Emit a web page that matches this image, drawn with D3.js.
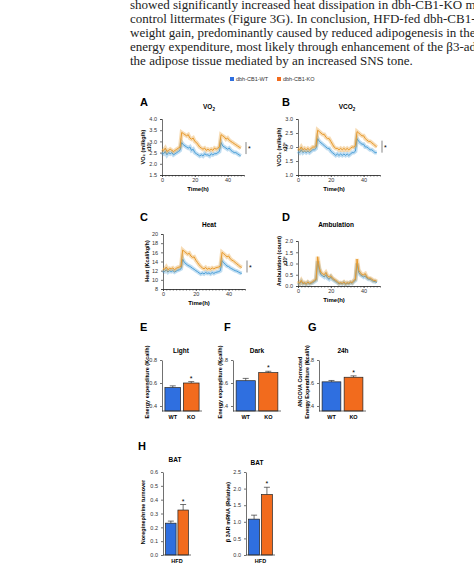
<!DOCTYPE html>
<html>
<meta charset="utf-8">
<head>
<script src="https://d3js.org/d3.v7.min.js"></script>
<style>
body{margin:0;background:#fff;}
svg text{font-family:"Liberation Sans",Arial,sans-serif;}
.para{font-family:"Liberation Serif","DejaVu Serif",serif;font-size:13px;fill:#222;}
</style>
</head>
<body>
<script>
// paragraph lines above the figure
var paraLines = [
  "showed significantly increased heat dissipation in dbh-CB1-KO mice compared",
  "control littermates (Figure 3G). In conclusion, HFD-fed dbh-CB1-KO mice showed",
  "weight gain, predominantly caused by reduced adipogenesis in the visceral fat",
  "energy expenditure, most likely through enhancement of the \u03b23-adrenergic",
  "the adipose tissue mediated by an increased SNS tone."
];
var seriesNames = ["dbh-CB1-WT", "dbh-CB1-KO"];
var hours = d3.range(0, 49);

var vo2WT = [2.5,2.45,2.55,2.4,2.5,2.45,2.5,2.4,2.45,2.5,2.55,2.6,
  2.95,2.85,2.8,2.75,2.7,2.75,2.6,2.65,2.5,2.45,2.4,2.35,
  2.4,2.35,2.45,2.4,2.4,2.35,2.45,2.4,2.45,2.45,2.5,2.55,
  2.95,2.8,2.75,2.7,2.65,2.7,2.6,2.55,2.5,2.5,2.45,2.4,2.35];
var vo2KO = [2.65,2.6,2.7,2.55,2.6,2.65,2.6,2.55,2.6,2.65,2.7,2.75,
  3.4,3.35,3.3,3.25,3.3,3.15,3.1,3.15,3.0,2.95,2.85,2.75,
  2.7,2.65,2.7,2.6,2.65,2.6,2.65,2.6,2.7,2.65,2.7,2.75,
  3.3,3.25,3.2,3.1,3.15,3.05,3.0,2.95,2.9,2.85,2.8,2.75,2.7];
var vco2WT = [1.85,1.8,1.9,1.8,1.85,1.8,1.85,1.8,1.85,1.9,1.9,1.95,
  2.3,2.2,2.15,2.1,2.05,2.0,1.95,1.95,1.85,1.8,1.75,1.7,
  1.75,1.7,1.75,1.7,1.75,1.7,1.75,1.7,1.75,1.8,1.8,1.85,
  2.3,2.2,2.15,2.1,2.1,2.0,2.0,1.95,1.9,1.9,1.85,1.8,1.8];
var vco2KO = [1.95,1.9,2.0,1.9,1.95,1.9,1.95,1.9,1.95,2.0,2.0,2.05,
  2.6,2.55,2.5,2.45,2.45,2.35,2.3,2.3,2.2,2.1,2.0,1.95,
  1.95,1.9,1.95,1.9,1.95,1.9,1.95,1.9,1.95,2.0,2.0,2.05,
  2.55,2.5,2.45,2.4,2.4,2.3,2.25,2.2,2.2,2.15,2.1,2.05,2.0];
var heatWT = [12,11.8,12.2,11.7,12,11.8,12,11.7,11.9,12.1,12.2,12.4,
  14.5,13.8,13.5,13.2,13,12.8,12.5,12.3,12,11.8,11.5,11.3,
  11.5,11.3,11.6,11.4,11.5,11.3,11.6,11.4,11.6,11.7,11.8,12,
  14.2,13.7,13.4,13,12.9,12.6,12.4,12.2,12,11.9,11.7,11.5,11.4];
var heatKO = [12.5,12.3,12.8,12.2,12.5,12.4,12.6,12.2,12.5,12.7,12.8,13,
  16.5,16.2,15.9,15.6,15.8,15.2,14.9,15,14.3,13.8,13.3,12.9,
  12.6,12.4,12.7,12.3,12.5,12.3,12.6,12.4,12.6,12.7,12.8,13,
  16,15.7,15.4,15,15.2,14.6,14.3,14.1,13.8,13.5,13.2,12.9,12.7];
var ambWT = [0.15,0.1,0.2,0.1,0.12,0.08,0.15,0.1,0.12,0.15,0.2,0.25,
  1.1,0.7,0.5,0.45,0.4,0.5,0.35,0.3,0.4,0.3,0.25,0.2,
  0.15,0.1,0.12,0.1,0.15,0.08,0.12,0.1,0.15,0.12,0.2,0.25,
  1.0,0.6,0.5,0.45,0.4,0.45,0.35,0.3,0.3,0.25,0.2,0.2,0.15];
var ambKO = [0.2,0.12,0.25,0.12,0.15,0.1,0.18,0.12,0.15,0.2,0.25,0.3,
  1.3,0.8,0.6,0.55,0.5,0.6,0.45,0.4,0.45,0.35,0.3,0.25,
  0.2,0.12,0.15,0.12,0.18,0.1,0.15,0.12,0.18,0.15,0.25,0.3,
  1.2,0.7,0.6,0.5,0.5,0.55,0.4,0.35,0.35,0.3,0.25,0.25,0.2];

var barGroups = ["WT", "KO"];
var lightMean = [0.56, 0.60], lightErr = [0.015, 0.012];
var darkMean = [0.62, 0.69], darkErr = [0.02, 0.012];
var dayMean = [0.61, 0.65], dayErr = [0.012, 0.012];
var neTurnover = [0.23, 0.325], neErr = [0.015, 0.04];
var b3ar = [1.08, 1.82], b3arErr = [0.12, 0.22];

var blueBar = "#2f6fe0", orangeBar = "#f26b1d";
var blueLine = "#4a9fd8", orangeLine = "#e89a2c";

var svg = d3.select("body").append("svg").attr("width", 474).attr("height", 566);

svg.selectAll("text.para").data(paraLines).enter().append("text")
  .attr("class", "para").attr("x", 130).attr("y", function(d, i){ return 9 + i * 14; })
  .text(function(d){ return d; });

// legend
var leg = svg.append("g").attr("transform", "translate(230,81)");
seriesNames.forEach(function(n, i){
  leg.append("rect").attr("x", i * 47).attr("y", -4).attr("width", 4).attr("height", 4)
    .attr("fill", i ? orangeBar : blueBar);
  leg.append("text").attr("x", i * 47 + 6).attr("y", 0).attr("font-size", 5.5).attr("fill", "#333").text(n);
});

function letter(t, x, y){
  svg.append("text").attr("x", x).attr("y", y).attr("font-size", 11).attr("font-weight", "bold").text(t);
}
function title(t, x, y, sub){
  var tx = svg.append("text").attr("x", x).attr("y", y).attr("font-size", 6.5).attr("font-weight", "bold")
    .attr("text-anchor", "middle").text(t);
  if (sub) tx.append("tspan").attr("font-size", 4.5).attr("dy", 2).text(sub);
}
function ylab(lines, x, y){
  var t = svg.append("text").attr("transform", "translate(" + x + "," + y + ") rotate(-90)")
    .attr("font-size", 5.5).attr("font-weight", "bold").attr("text-anchor", "middle");
  lines.forEach(function(l, i){
    t.append("tspan").attr("x", 0).attr("dy", i ? 6.5 : 0).text(l);
  });
  return t;
}
function styleAxis(g){
  g.selectAll("text").attr("font-size", 5.5).attr("fill", "#333");
  g.selectAll("path,line").attr("stroke", "#333").attr("stroke-width", 0.7);
}

function timeChart(o){
  var x = d3.scaleLinear().domain([0, 50]).range([o.x, o.x + 82]);
  var y = d3.scaleLinear().domain(o.dom).range([o.bottom, o.top]);
  var gx = svg.append("g").attr("transform", "translate(0," + o.bottom + ")")
    .call(d3.axisBottom(x).tickValues([0, 20, 40]).tickSize(2).tickPadding(1).tickSizeOuter(0));
  svg.append("g").attr("transform", "translate(0," + o.bottom + ")")
    .call(d3.axisBottom(x).tickValues(d3.range(0, 50, 2)).tickSize(1.5).tickFormat(""))
    .call(styleAxis);
  var gy = svg.append("g").attr("transform", "translate(" + o.x + ",0)")
    .call(d3.axisLeft(y).tickValues(o.ticks).tickSize(2).tickFormat(d3.format(o.fmt)));
  styleAxis(gx); styleAxis(gy);
  [[o.wt, blueLine], [o.ko, orangeLine]].forEach(function(s){
    var line = d3.line().x(function(d, i){ return x(hours[i]); }).y(function(d){ return y(d); });
    svg.append("path").datum(s[0]).attr("d", line).attr("fill", "none")
      .attr("stroke", s[1]).attr("stroke-opacity", 0.35).attr("stroke-width", 4);
    svg.append("path").datum(s[0]).attr("d", line).attr("fill", "none")
      .attr("stroke", s[1]).attr("stroke-width", 1);
  });
  if (o.star) {
    var ym = y(d3.mean(o.ko.concat(o.wt)));
    svg.append("line").attr("x1", x(50) + 2).attr("x2", x(50) + 2).attr("y1", ym - 6).attr("y2", ym + 6)
      .attr("stroke", "#333").attr("stroke-width", 0.6);
    svg.append("text").attr("x", x(50) + 4).attr("y", ym + 3).attr("font-size", 7).text("*");
  }
  svg.append("text").attr("x", x(22)).attr("y", o.bottom + 16).attr("font-size", 6)
    .attr("font-weight", "bold").attr("text-anchor", "middle").text("Time(h)");
}

letter("A", 140, 106); title("VO", 209, 109, "2");
timeChart({x: 162, top: 119, bottom: 175, dom: [1.5, 4], ticks: [1.5, 2, 2.5, 3, 3.5, 4], fmt: ".1f", wt: vo2WT, ko: vo2KO, star: true});
ylab(["VO\u2082 (ml/kg/h)"], 145, 147); ylab(["x10\u00b3"], 151, 147).attr("font-size", 4.5);

letter("B", 282, 106); title("VCO", 347, 109, "2");
timeChart({x: 298, top: 119, bottom: 175, dom: [1, 3], ticks: [1, 1.5, 2, 2.5, 3], fmt: ".1f", wt: vco2WT, ko: vco2KO, star: true});
ylab(["VCO\u2082 (ml/kg/h)"], 281, 147); ylab(["x10\u00b3"], 287, 147).attr("font-size", 4.5);

letter("C", 140, 221); title("Heat", 209, 227);
timeChart({x: 163, top: 234, bottom: 289, dom: [8, 20], ticks: [8, 10, 12, 14, 16, 18, 20], fmt: "d", wt: heatWT, ko: heatKO, star: true});
ylab(["Heat (Kcal/kg/h)"], 149, 261);

letter("D", 282, 221); title("Ambulation", 336, 227);
timeChart({x: 298, top: 241, bottom: 286, dom: [0, 2], ticks: [0, 0.5, 1, 1.5, 2], fmt: ".1f", wt: ambWT, ko: ambKO, star: false});
ylab(["Ambulation (count)"], 281, 261); ylab(["x10\u00b3"], 287, 261).attr("font-size", 4.5);

function barChart(o){
  var y = d3.scaleLinear().domain(o.dom).range([o.bottom, o.top]);
  var x = d3.scaleBand().domain(barGroups).range([o.x + 2, o.x + o.w]).paddingInner(0.15).paddingOuter(0.05);
  var g = svg.append("g");
  g.selectAll("line.eb").data(o.mean).enter().append("line")
    .attr("x1", function(d, i){ return x(barGroups[i]) + x.bandwidth() / 2; })
    .attr("x2", function(d, i){ return x(barGroups[i]) + x.bandwidth() / 2; })
    .attr("y1", function(d){ return y(d); })
    .attr("y2", function(d, i){ return y(d + o.err[i]); })
    .attr("stroke", "#333").attr("stroke-width", 0.7);
  g.selectAll("line.cap").data(o.mean).enter().append("line")
    .attr("x1", function(d, i){ return x(barGroups[i]) + x.bandwidth() / 2 - 3; })
    .attr("x2", function(d, i){ return x(barGroups[i]) + x.bandwidth() / 2 + 3; })
    .attr("y1", function(d, i){ return y(d + o.err[i]); })
    .attr("y2", function(d, i){ return y(d + o.err[i]); })
    .attr("stroke", "#333").attr("stroke-width", 0.7);
  g.selectAll("rect").data(o.mean).enter().append("rect")
    .attr("x", function(d, i){ return x(barGroups[i]); })
    .attr("width", x.bandwidth())
    .attr("y", function(d){ return y(d); })
    .attr("height", function(d){ return o.bottom - y(d); })
    .attr("fill", function(d, i){ return i ? orangeBar : blueBar; })
    .attr("stroke", "#222").attr("stroke-width", 0.7);
  svg.append("text").attr("x", x("KO") + x.bandwidth() / 2).attr("y", y(o.mean[1] + o.err[1]) - 1)
    .attr("font-size", 7).attr("text-anchor", "middle").text("*");
  var gy = svg.append("g").attr("transform", "translate(" + o.x + ",0)")
    .call(d3.axisLeft(y).tickValues(o.ticks).tickSize(2).tickSizeOuter(0).tickFormat(d3.format(".1f")));
  styleAxis(gy);
  svg.append("line").attr("x1", o.x).attr("x2", o.x + o.w + 2).attr("y1", o.bottom).attr("y2", o.bottom)
    .attr("stroke", "#333").attr("stroke-width", 0.7);
  if (o.cats) {
    barGroups.forEach(function(c){
      svg.append("text").attr("x", x(c) + x.bandwidth() / 2).attr("y", o.bottom + 8).attr("font-size", 5.5)
        .attr("font-weight", "bold").attr("text-anchor", "middle").text(c);
    });
  } else {
    svg.append("text").attr("x", o.x + o.w / 2 + 1).attr("y", o.bottom + 8).attr("font-size", 5.5)
      .attr("font-weight", "bold").attr("text-anchor", "middle").text("HFD");
  }
}

letter("E", 140, 331); title("Light", 181, 353);
barChart({x: 162, w: 38, top: 360, bottom: 411, dom: [0.3565, 0.8], ticks: [0.4, 0.6, 0.8], mean: lightMean, err: lightErr, cats: true});
ylab(["Energy expenditure (Kcal/h)"], 149, 382);

letter("F", 224, 331); title("Dark", 257, 353);
barChart({x: 233, w: 46, top: 360, bottom: 411, dom: [0.3565, 0.8], ticks: [0.4, 0.6, 0.8], mean: darkMean, err: darkErr, cats: true});
ylab(["Energy expenditure (Kcal/h)"], 222, 382);

letter("G", 308, 331); title("24h", 343, 353);
barChart({x: 319, w: 45, top: 360, bottom: 411, dom: [0.3565, 0.8], ticks: [0.4, 0.6, 0.8], mean: dayMean, err: dayErr, cats: true});
ylab(["ANCOVA Corrected", "Energy Expenditure (Kcal/h)"], 302, 382);

letter("H", 138, 450); title("BAT", 175, 462);
barChart({x: 163, w: 26, top: 472, bottom: 555, dom: [0, 0.6], ticks: d3.range(0, 0.61, 0.1), mean: neTurnover, err: neErr, cats: false});
ylab(["Noreginephrine turnover"], 145, 512);

title("BAT", 257, 465);
barChart({x: 246, w: 27, top: 472, bottom: 555, dom: [0, 2.5], ticks: [0, 0.5, 1, 1.5, 2, 2.5], mean: b3ar, err: b3arErr, cats: false});
ylab(["\u03b2 3AR mRNA (Relative)"], 230, 512);
</script>
</body>
</html>
